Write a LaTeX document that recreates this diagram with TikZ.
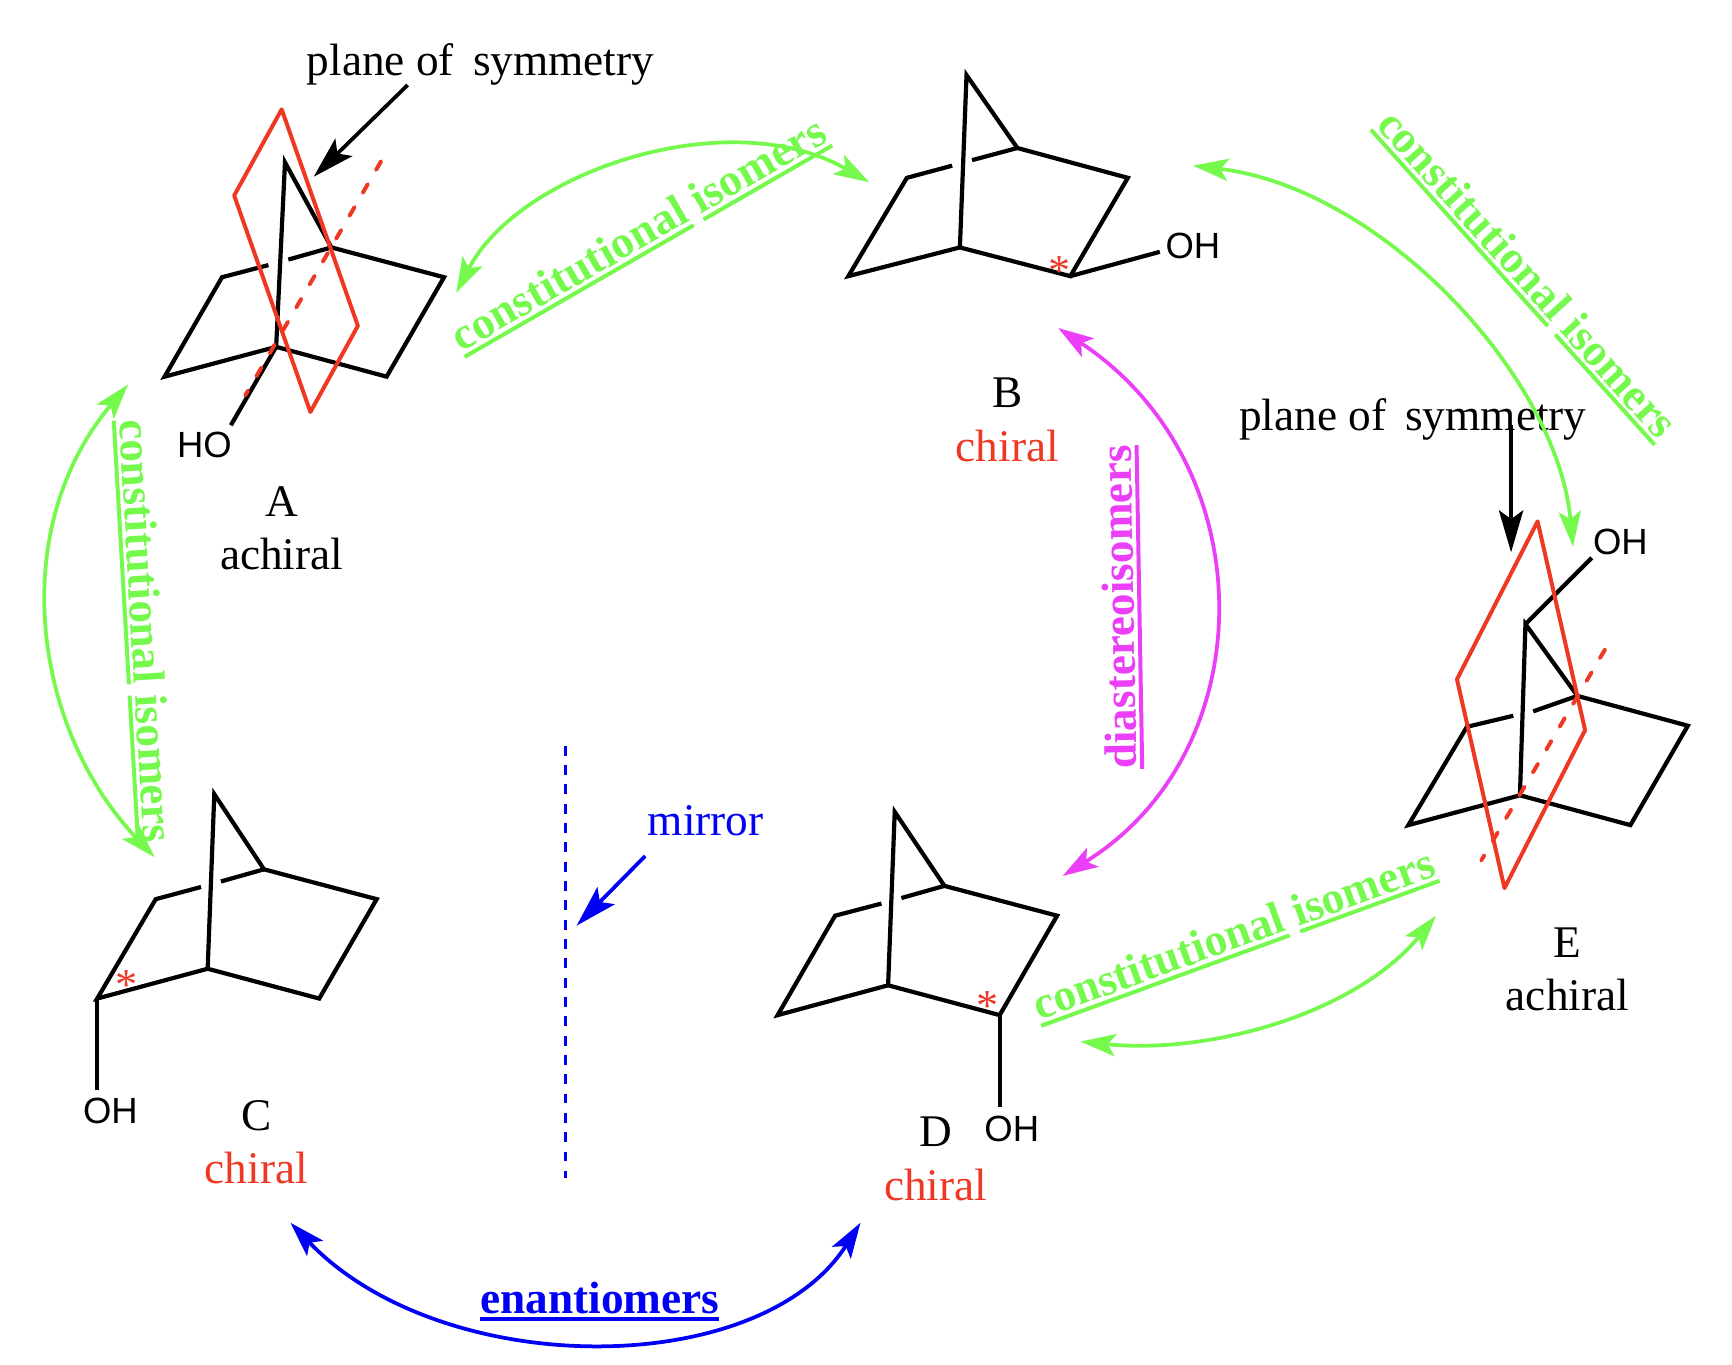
\documentclass[tikz,border=0pt]{standalone}
\usepackage{fontspec}
\setmainfont{Liberation Serif}
\newfontfamily\chemfont{Liberation Sans}
\usetikzlibrary{arrows.meta}
\definecolor{myred}{RGB}{238,56,36}
\definecolor{mygreen}{RGB}{117,249,77}
\definecolor{myblue}{RGB}{0,0,245}
\definecolor{mymag}{RGB}{234,63,247}
\newcommand\grul[1]{\setbox0\hbox{#1}\rlap{\rule[-3.4pt]{\wd0}{1.8pt}}\box0\relax}
\tikzset{
  bond/.style={draw=black,line width=1.9pt,line join=miter,line cap=butt},
  plane/.style={draw=myred,line width=1.8pt,line join=round},
  planeaxis/.style={draw=myred,line width=1.8pt,line cap=round,dash pattern=on 4.5pt off 7.5pt},
  lab/.style={inner sep=0pt,anchor=base,font=\fontsize{20.5}{24}\selectfont},
  isom/.style={inner sep=0pt,anchor=base,font=\fontsize{20.5}{24}\selectfont\bfseries},
  atom/.style={inner sep=0pt,font=\chemfont\fontsize{16.5}{20}\selectfont},
  star/.style={inner sep=0pt,text=myred,font=\fontsize{20}{24}\selectfont},
  greenarc/.style={draw=mygreen,line width=1.7pt,{Stealth[length=16pt,width=10pt,inset=3.5pt]}-{Stealth[length=16pt,width=10pt,inset=3.5pt]}},
  magarc/.style={draw=mymag,line width=1.7pt,{Stealth[length=16pt,width=10pt,inset=3.5pt]}-{Stealth[length=16pt,width=10pt,inset=3.5pt]}},
  bluearc/.style={draw=myblue,line width=1.7pt,{Stealth[length=16pt,width=10pt,inset=3.5pt]}-{Stealth[length=16pt,width=10pt,inset=3.5pt]}},
  blackarrow/.style={draw=black,line width=1.7pt,-{Stealth[length=19pt,width=11pt,inset=4pt]}},
  bluearrow/.style={draw=myblue,line width=1.7pt,-{Stealth[length=19pt,width=11pt,inset=4pt]}},
  mirrorline/.style={draw=myblue,line width=1.6pt,dash pattern=on 4.5pt off 4.25pt}
}
\begin{document}
\begin{tikzpicture}[x=0.5pt,y=-0.5pt]
\useasboundingbox (0,0) rectangle (1568,1235);

% Molecule A
\coordinate (a1) at (258,147);
\coordinate (a2) at (300,224);
\coordinate (a3) at (402,251);
\coordinate (a4) at (350,341);
\coordinate (a5) at (250,314);
\coordinate (a6) at (149,341);
\coordinate (a7) at (201,251);
\coordinate (a8) at (243,240);
\coordinate (a9) at (261,235);
\coordinate (a10) at (209,385);
\draw[bond] (a5) -- (a1) -- (a2) -- (a3) -- (a4) -- (a5) -- (a6) -- (a7) -- (a8);
\draw[bond] (a9) -- (a2);
\draw[bond] (a5) -- (a10);
\node[atom] (aoh) at (185,403) {HO};
\coordinate (ap1) at (255,99);
\coordinate (ap2) at (324,295);
\coordinate (ap3) at (281,373);
\coordinate (ap4) at (212,177);
\draw[plane] (ap1) -- (ap2) -- (ap3) -- (ap4) -- cycle;
\coordinate (ad1) at (345,146);
\coordinate (ad2) at (222,358);
\draw[planeaxis] (ad1) -- (ad2);
\node[lab] (aplane) at (435,68) {plane of\hspace{3.5pt} symmetry};
\coordinate (aarr1) at (369,77);
\coordinate (aarr2) at (284,160);
\draw[blackarrow] (aarr1) -- (aarr2);
\node[lab] (alab) at (255,468) {A};
\node[lab] (achi) at (255,516) {achiral};

% Molecule B
\coordinate (b1) at (875,68);
\coordinate (b2) at (921,134);
\coordinate (b3) at (1021,161);
\coordinate (b4) at (969,250);
\coordinate (b5) at (869,224);
\coordinate (b6) at (768,250);
\coordinate (b7) at (821,161);
\coordinate (b8) at (862,150);
\coordinate (b9) at (880,145);
\coordinate (b10) at (1050,228);
\draw[bond] (b5) -- (b1) -- (b2) -- (b3) -- (b4) -- (b5) -- (b6) -- (b7) -- (b8);
\draw[bond] (b9) -- (b2);
\draw[bond] (b4) -- (b10);
\node[atom] (boh) at (1080,223) {OH};
\node[star] (bstar) at (959,245) {*};
\node[lab] (blab) at (912,369) {B};
\node[lab,text=myred] (bchi) at (912,418) {chiral};

% Molecule C
\coordinate (c1) at (194,719);
\coordinate (c2) at (239,787);
\coordinate (c3) at (341,814);
\coordinate (c4) at (289,904);
\coordinate (c5) at (188,877);
\coordinate (c6) at (88,904);
\coordinate (c7) at (141,814);
\coordinate (c8) at (182,803);
\coordinate (c9) at (200,798);
\coordinate (c10) at (88,987);
\draw[bond] (c5) -- (c1) -- (c2) -- (c3) -- (c4) -- (c5) -- (c6) -- (c7) -- (c8);
\draw[bond] (c9) -- (c2);
\draw[bond] (c6) -- (c10);
\node[atom] (coh) at (100,1006) {OH};
\node[star] (cstar) at (115,892) {*};
\node[lab] (clab) at (232,1023) {C};
\node[lab,text=myred] (cchi) at (232,1071) {chiral};

% Molecule D
\coordinate (d1) at (810,735);
\coordinate (d2) at (855,802);
\coordinate (d3) at (957,829);
\coordinate (d4) at (905,919);
\coordinate (d5) at (804,892);
\coordinate (d6) at (704,919);
\coordinate (d7) at (756,829);
\coordinate (d8) at (798,818);
\coordinate (d9) at (816,813);
\coordinate (d10) at (905,1002);
\draw[bond] (d5) -- (d1) -- (d2) -- (d3) -- (d4) -- (d5) -- (d6) -- (d7) -- (d8);
\draw[bond] (d9) -- (d2);
\draw[bond] (d4) -- (d10);
\node[atom] (doh) at (916,1022) {OH};
\node[star] (dstar) at (894,911) {*};
\node[lab] (dlab) at (847,1038) {D};
\node[lab,text=myred] (dchi) at (847,1087) {chiral};

% Molecule E
\coordinate (e1) at (1381,565);
\coordinate (e2) at (1428,630);
\coordinate (e3) at (1528,657);
\coordinate (e4) at (1476,747);
\coordinate (e5) at (1376,720);
\coordinate (e6) at (1275,747);
\coordinate (e7) at (1328,658);
\coordinate (e8) at (1370,648);
\coordinate (e9) at (1388,644);
\coordinate (e10) at (1441,505);
\draw[bond] (e5) -- (e1) -- (e2) -- (e3) -- (e4) -- (e5) -- (e6) -- (e7) -- (e8);
\draw[bond] (e9) -- (e2);
\draw[bond] (e1) -- (e10);
\node[atom] (eoh) at (1467,491) {OH};
\coordinate (ep1) at (1392,472);
\coordinate (ep2) at (1435,661);
\coordinate (ep3) at (1362,804);
\coordinate (ep4) at (1319,615);
\draw[plane] (ep1) -- (ep2) -- (ep3) -- (ep4) -- cycle;
\coordinate (ed1) at (1453,588);
\coordinate (ed2) at (1341,779);
\draw[planeaxis] (ed1) -- (ed2);
\node[lab] (eplane) at (1279,390) {plane of\hspace{3.5pt} symmetry};
\coordinate (earr1) at (1368,385);
\coordinate (earr2) at (1368,500);
\draw[blackarrow] (earr1) -- (earr2);
\node[lab] (elab) at (1419,867) {E};
\node[lab] (echi) at (1419,915) {achiral};

% Relationship arcs
\coordinate (g1a) at (413,265);
\coordinate (g1b) at (787,165);
\draw[greenarc] (g1a) .. controls (470,155) and (660,92) .. (g1b);
\coordinate (g2a) at (1080,150);
\coordinate (g2b) at (1424,495);
\draw[greenarc] (g2a) .. controls (1250,170) and (1410,340) .. (g2b);
\coordinate (g3a) at (116,348);
\coordinate (g3b) at (140,776);
\draw[greenarc] (g3a) .. controls (5,480) and (30,660) .. (g3b);
\coordinate (g4a) at (978,943);
\coordinate (g4b) at (1300,829);
\draw[greenarc] (g4a) .. controls (1100,955) and (1230,915) .. (g4b);
\coordinate (m1a) at (958,297);
\coordinate (m1b) at (962,793);
\draw[magarc] (m1a) .. controls (1145,420) and (1145,680) .. (m1b);
\coordinate (bl1a) at (263,1107);
\coordinate (bl1b) at (779,1107);
\draw[bluearc] (bl1a) .. controls (400,1250) and (688,1250) .. (bl1b);

% Arc labels
\node[isom,text=mygreen,rotate=29.9] (t1) at (584.5,223.1) {\grul{constitutional} \grul{isomers}};
\node[isom,text=mygreen,rotate=-48] (t2) at (1373.2,256.7) {\grul{constitutional} \grul{isomers}};
\node[isom,text=mygreen,rotate=-86.7] (t3) at (119,572) {\grul{constitutional} \grul{isomers}};
\node[isom,text=mygreen,rotate=20] (t4) at (1121.3,858.3) {\grul{constitutional} \grul{isomers}};
\node[isom,text=mymag,rotate=91] (t5) at (1026.5,549.6) {\grul{diastereoisomers}};
\node[isom,text=myblue] (t6) at (543,1189) {\grul{enantiomers}};

% Mirror
\coordinate (mi1) at (512,675);
\coordinate (mi2) at (512,1066);
\draw[mirrorline] (mi1) -- (mi2);
\node[lab,text=myblue] (mlab) at (639,756) {mirror};
\coordinate (miarr1) at (584,775);
\coordinate (miarr2) at (522,838);
\draw[bluearrow] (miarr1) -- (miarr2);
\end{tikzpicture}
\end{document}
